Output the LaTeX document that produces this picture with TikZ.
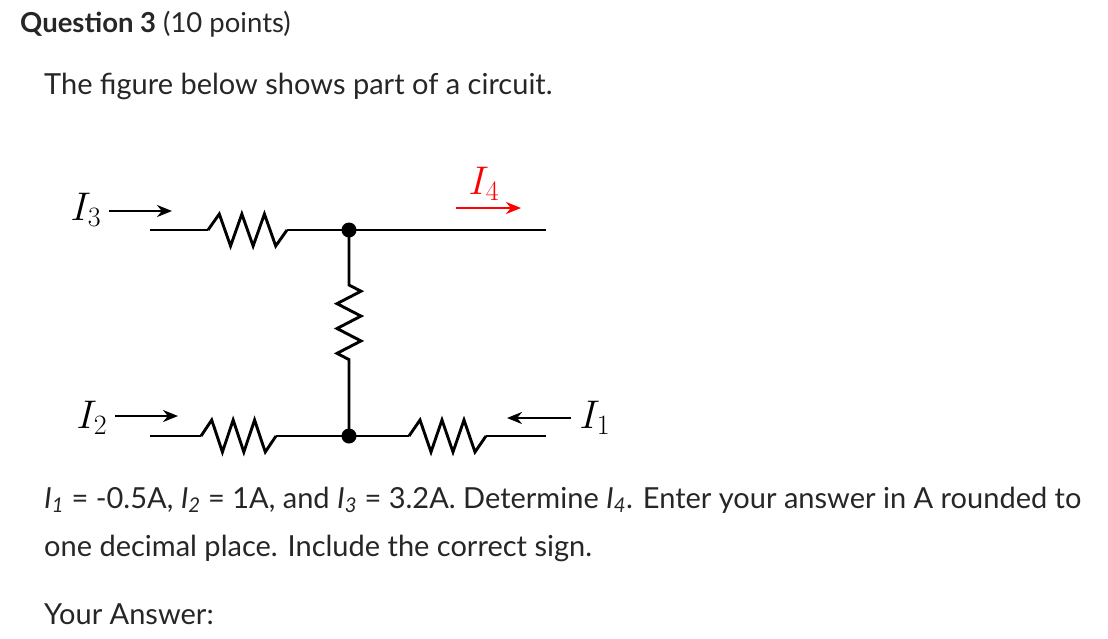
\documentclass[tikz,border=0pt]{standalone}
\usepackage{fix-cm}
\usepackage{fontspec}
\setmainfont{Lato}
\usetikzlibrary{arrows.meta}
\tikzset{
 txt/.style={anchor=west,inner sep=0pt,font=\fontsize{29}{32}\selectfont,text=black!85},
 wire/.style={line width=2.9pt,line join=miter},
 cur/.style={line width=2.6pt,-{Stealth[length=15pt,width=12pt]}},
 lab/.style={inner sep=0pt,font=\fontsize{40}{40}\selectfont},
 dot/.style={circle,fill=black,inner sep=0pt,minimum size=15pt}
}
\newcommand{\hres}[3]{% x1 x2 y
 \draw[wire] (#1,#3) -- ++({(#2-#1)/7},-16) -- ++({(#2-#1)/7},32) -- ++({(#2-#1)/7},-32) -- ++({(#2-#1)/7},32) -- ++({(#2-#1)/7},-32) -- ++({(#2-#1)/7},32) -- (#2,#3);}
\begin{document}
\begin{tikzpicture}[x=1pt,y=-1pt]
\useasboundingbox (0,0) rectangle (1108,638);
\node[txt,font=\fontsize{27.5}{32}\selectfont] (q) at (20,24) {\textbf{Question 3} (10 points)};
\node[txt] (t1) at (44,86) {The figure below shows part of a circuit.};
\node[txt] (t2) at (44,500) {\textit{I}\textsubscript{\textit{1}} = -0.5A, \textit{I}\textsubscript{\textit{2}} = 1A, and \textit{I}\textsubscript{\textit{3}} = 3.2A. Determine \textit{I}\textsubscript{\textit{4}}. Enter your answer in A rounded to};
\node[txt] (t3) at (44,548) {one decimal place. Include the correct sign.};
\node[txt] (t4) at (44,614) {Your Answer:};
% circuit
\coordinate (a) at (150,230); \coordinate (r1a) at (208,230); \coordinate (r1b) at (287,230);
\node[dot] (n1) at (349,230) {}; \coordinate (e) at (546,230);
\coordinate (b) at (150,436); \coordinate (r2a) at (201,436); \coordinate (r2b) at (276,436);
\node[dot] (n2) at (349,436) {}; \coordinate (r3a) at (409,436); \coordinate (r3b) at (486,436);
\coordinate (f) at (546,436);
\coordinate (v1) at (349,285); \coordinate (v2) at (349,372);
\draw[wire] (a) -- (r1a); \hres{208}{287}{230}; \draw[wire] (r1b) -- (n1.center) -- (e);
\draw[wire] (b) -- (r2a); \hres{201}{276}{436}; \draw[wire] (r2b) -- (n2.center) -- (r3a);
\hres{409}{486}{436}; \draw[wire] (r3b) -- (f);
\draw[wire] (n1.center) -- (v1) -- ++(12,{87/14}) -- ++(-24,{87/7}) -- ++(24,{87/7}) -- ++(-24,{87/7}) -- ++(24,{87/7}) -- ++(-24,{87/7}) -- ++(12,{87/14}) -- (v2) -- (n2.center);
% currents
\node[lab] (i3) at (86,210) {$I_3$};
\coordinate (i3a) at (109,211); \coordinate (i3b) at (172,211);
\draw[cur] (i3a) -- (i3b);
\node[lab,red] (i4) at (484,184) {$I_4$};
\coordinate (i4a) at (456,208); \coordinate (i4b) at (521,208);
\draw[cur,red] (i4a) -- (i4b);
\node[lab] (i2) at (92,418) {$I_2$};
\coordinate (i2a) at (115,416); \coordinate (i2b) at (178,416);
\draw[cur] (i2a) -- (i2b);
\node[lab] (i1) at (595,418) {$I_1$};
\coordinate (i1a) at (571,418); \coordinate (i1b) at (507,418);
\draw[cur] (i1a) -- (i1b);
\end{tikzpicture}
\end{document}
